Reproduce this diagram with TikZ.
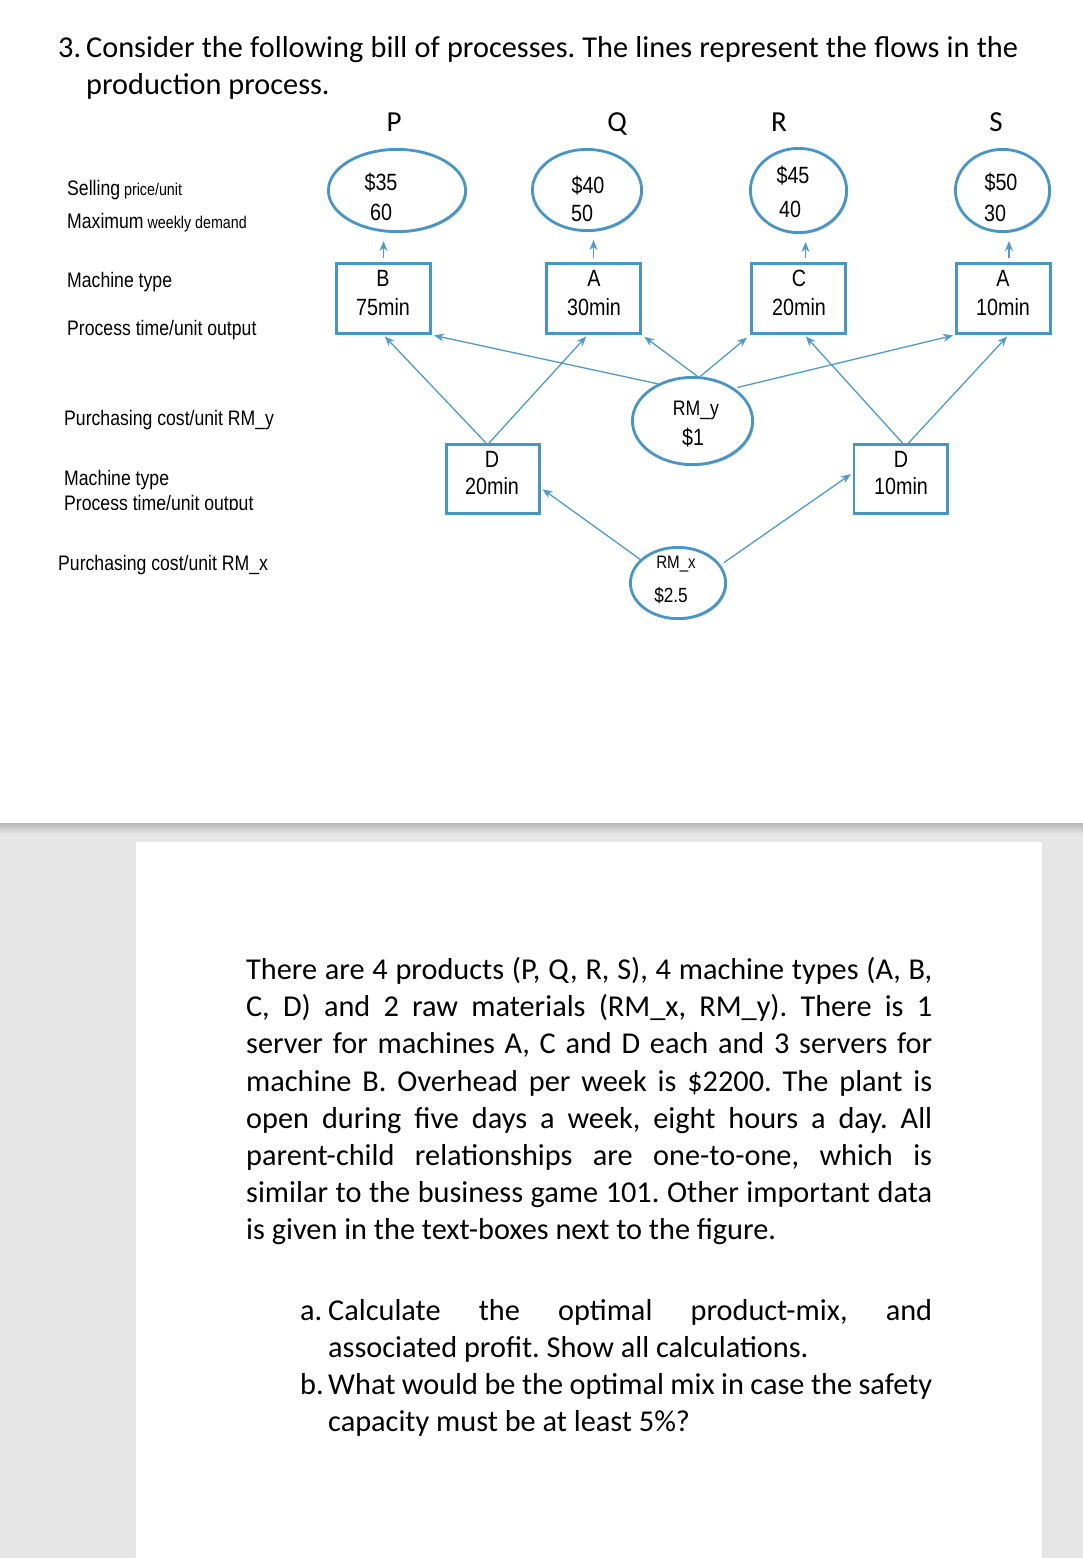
\documentclass[tikz,border=0pt]{standalone}
\usepackage{fontspec}
\setmainfont{Carlito}
\newfontfamily\narrowfont[FakeStretch=0.84]{Liberation Sans}
\usetikzlibrary{shapes.geometric,arrows.meta,shadows}
\definecolor{nodeblue}{RGB}{72,150,200}
\definecolor{lineblue}{RGB}{80,155,205}
\definecolor{bggray}{RGB}{230,230,230}
\frenchspacing
\begin{document}
\begin{tikzpicture}[x=1pt,y=-1pt,
  demand/.style={ellipse, draw=nodeblue, line width=2.8pt, fill=white, inner sep=0pt,
    drop shadow={shadow xshift=1.5pt,shadow yshift=-1.5pt,fill=black,opacity=0.22}},
  mach/.style={rectangle, draw=nodeblue, line width=2.8pt, fill=white, inner sep=0pt,
    minimum width=94.2pt, minimum height=70.2pt,
    drop shadow={shadow xshift=1.5pt,shadow yshift=-1.5pt,fill=black,opacity=0.18}},
  flow/.style={draw=lineblue, line width=1.3pt, -{Stealth[length=10pt,width=8pt]}, shorten >=2pt},
  lab/.style={anchor=base west, inner sep=0pt, font=\narrowfont\fontsize{21}{25}\selectfont},
  val/.style={anchor=base, inner sep=0pt, font=\narrowfont\fontsize{23.5}{28}\selectfont},
  txt/.style={anchor=base west, inner sep=0pt, font=\fontsize{30.3}{37}\selectfont},
  hdr/.style={anchor=base, inner sep=0pt, font=\fontsize{29}{37}\selectfont}
]
\useasboundingbox (0,0) rectangle (1083,1558);
\fill[white] (0,0) rectangle (1083,1558);

% title
\node[txt] (t0) at (58,57) {3.};
\node[txt] (t1) at (86,57) {\makebox[932pt][s]{Consider the following bill of processes. The lines represent the flows in the}};
\node[txt] (t2) at (86,94) {production process.};

% column headers
\node[hdr] (hP) at (394,131) {P};
\node[hdr] (hQ) at (617,131) {Q};
\node[hdr] (hR) at (779,131) {R};
\node[hdr] (hS) at (996,131) {S};

% left labels
\node[lab] (l1) at (67,195) {Selling{\fontsize{17}{20}\selectfont\ price/unit}};
\node[lab] (l2) at (67,228) {Maximum{\fontsize{17}{20}\selectfont\ weekly demand}};
\node[lab] (l3) at (67,287) {Machine type};
\node[lab] (l4) at (67,335) {Process time/unit output};
\node[lab] (l5) at (64,425) {Purchasing cost/unit RM\_y};
\node[lab] (l6) at (64,485) {Machine type};
\begin{scope}
\clip (40,440) rectangle (320,509);
\node[lab] (l7) at (64,510) {Process time/unit output};
\end{scope}
\node[lab] (l8) at (58,570) {Purchasing cost/unit RM\_x};

% demand ellipses
\node[demand, minimum width=137.2pt, minimum height=82.2pt] (eP) at (397,190.5) {};
\node[demand, minimum width=109.2pt, minimum height=81.2pt] (eQ) at (587,190) {};
\node[demand, minimum width=96.2pt, minimum height=84.2pt] (eR) at (798.5,190.5) {};
\node[demand, minimum width=94.2pt, minimum height=82.2pt] (eS) at (1002.5,190.5) {};
\node[val] (vP1) at (381,190) {\$35};
\node[val] (vP2) at (381,220) {60};
\node[val] (vQ1) at (588,193) {\$40};
\node[val] (vQ2) at (582,221) {50};
\node[val] (vR1) at (793,183) {\$45};
\node[val] (vR2) at (790,217) {40};
\node[val] (vS1) at (1001,190) {\$50};
\node[val] (vS2) at (995,221) {30};

% machine boxes
\node[mach] (rB)  at (383.5,298.5) {};
\node[mach] (rA1) at (593.5,298.5) {};
\node[mach] (rC)  at (798.5,298.5) {};
\node[mach] (rA2) at (1003.5,298.5) {};
\node[mach, minimum width=93.2pt, minimum height=69.2pt] (rDL) at (493,479) {};
\node[mach, minimum width=93.2pt, minimum height=69.2pt] (rDR) at (900.5,479) {};
\node[val] (bB1) at (383,286) {B};
\node[val] (bB2) at (383,315) {75min};
\node[val] (bA1) at (594,286) {A};
\node[val] (bA2) at (594,315) {30min};
\node[val] (bC1) at (799,286) {C};
\node[val] (bC2) at (799,315) {20min};
\node[val] (bS1) at (1003,286) {A};
\node[val] (bS2) at (1003,315) {10min};
\node[val] (bD1) at (492,467) {D};
\node[val] (bD2) at (492,494) {20min};
\node[val] (bE1) at (901,467) {D};
\node[val] (bE2) at (901,494) {10min};

% raw materials
\node[demand, minimum width=120.2pt, minimum height=87.2pt] (rmy) at (692.5,421) {};
\node[val, font=\narrowfont\fontsize{21}{25}\selectfont] (vy1) at (696,415.5) {RM\_y};
\node[val] (vy2) at (693,445) {\$1};
\node[demand, minimum width=95.2pt, minimum height=71.2pt] (rmx) at (678,583) {};
\node[val, font=\narrowfont\fontsize{18}{22}\selectfont] (vx1) at (676,568.5) {RM\_x};
\node[val, font=\narrowfont\fontsize{20.5}{24}\selectfont] (vx2) at (671,602) {\$2.5};

% box -> demand arrows
\draw[flow, shorten <=4pt, shorten >=8pt] (rB.north) -- (rB.north |- eP.south);
\draw[flow, shorten <=4pt, shorten >=8pt] (rA1.north) -- (rA1.north |- eQ.south);
\draw[flow, shorten <=4pt, shorten >=8pt] ([xshift=7pt]rC.north) -- ([xshift=7pt]rC.north |- eR.south);
\draw[flow, shorten <=4pt, shorten >=8pt] ([xshift=5.5pt]rA2.north) -- ([xshift=5.5pt]rA2.north |- eS.south);

% flows
\draw[flow] ([xshift=-7pt]rDL.north) -- (rB.south);
\draw[flow] ([xshift=-4pt]rDL.north) -- ([xshift=-6pt]rA1.south);
\draw[flow] (rmy.133) -- (rB.south east);
\draw[flow, shorten >=3pt] (rmy.84) -- (rA1.south east);
\draw[flow, shorten >=4pt] (rmy.80) -- (rC.south west);
\draw[flow, shorten <=3pt] (rmy.38) -- (rA2.south west);
\draw[flow] ([xshift=2pt]rDR.north) -- ([xshift=6pt]rC.south);
\draw[flow] ([xshift=8pt]rDR.north) -- ([xshift=5pt]rA2.south);
\draw[flow] (rmx.148) -- ([yshift=-9pt]rDL.east);
\draw[flow, shorten <=4pt] (rmx.23) -- ([yshift=6pt]rDR.west);

% lower gray area with page
\fill[bggray] (0,823) rectangle (1083,1558);
\shade[top color=black!28, bottom color=bggray] (0,823) rectangle (1083,834);
\fill[black!10] (134,840) rectangle (1044,1558);
\fill[white] (136,842) rectangle (1042,1558);

% paragraph
\node[txt] (p1) at (246,979) {\makebox[686pt][s]{There are 4 products (P, Q, R, S), 4 machine types (A, B,}};
\node[txt] (p2) at (246,1016) {\makebox[686pt][s]{C, D) and 2 raw materials (RM\_x, RM\_y). There is 1}};
\node[txt] (p3) at (246,1053) {\makebox[686pt][s]{server for machines A, C and D each and 3 servers for}};
\node[txt] (p4) at (246,1091) {\makebox[686pt][s]{machine B. Overhead per week is \$2200. The plant is}};
\node[txt] (p5) at (246,1128) {\makebox[686pt][s]{open during five days a week, eight hours a day. All}};
\node[txt] (p6) at (246,1165) {\makebox[686pt][s]{parent-child relationships are one-to-one, which is}};
\node[txt] (p7) at (246,1202) {\makebox[686pt][s]{similar to the business game 101. Other important data}};
\node[txt] (p8) at (246,1239) {is given in the text-boxes next to the figure.};

\node[txt] (qa) at (300,1320) {a.};
\node[txt] (qa1) at (328,1320) {\makebox[604pt][s]{Calculate the optimal product-mix, and}};
\node[txt] (qa2) at (328,1357) {associated profit. Show all calculations.};
\node[txt] (qb) at (300,1394) {b.};
\node[txt] (qb1) at (328,1394) {\makebox[604pt][s]{What would be the optimal mix in case the safety}};
\node[txt] (qb2) at (328,1431) {capacity must be at least 5\%?};
\end{tikzpicture}
\end{document}
